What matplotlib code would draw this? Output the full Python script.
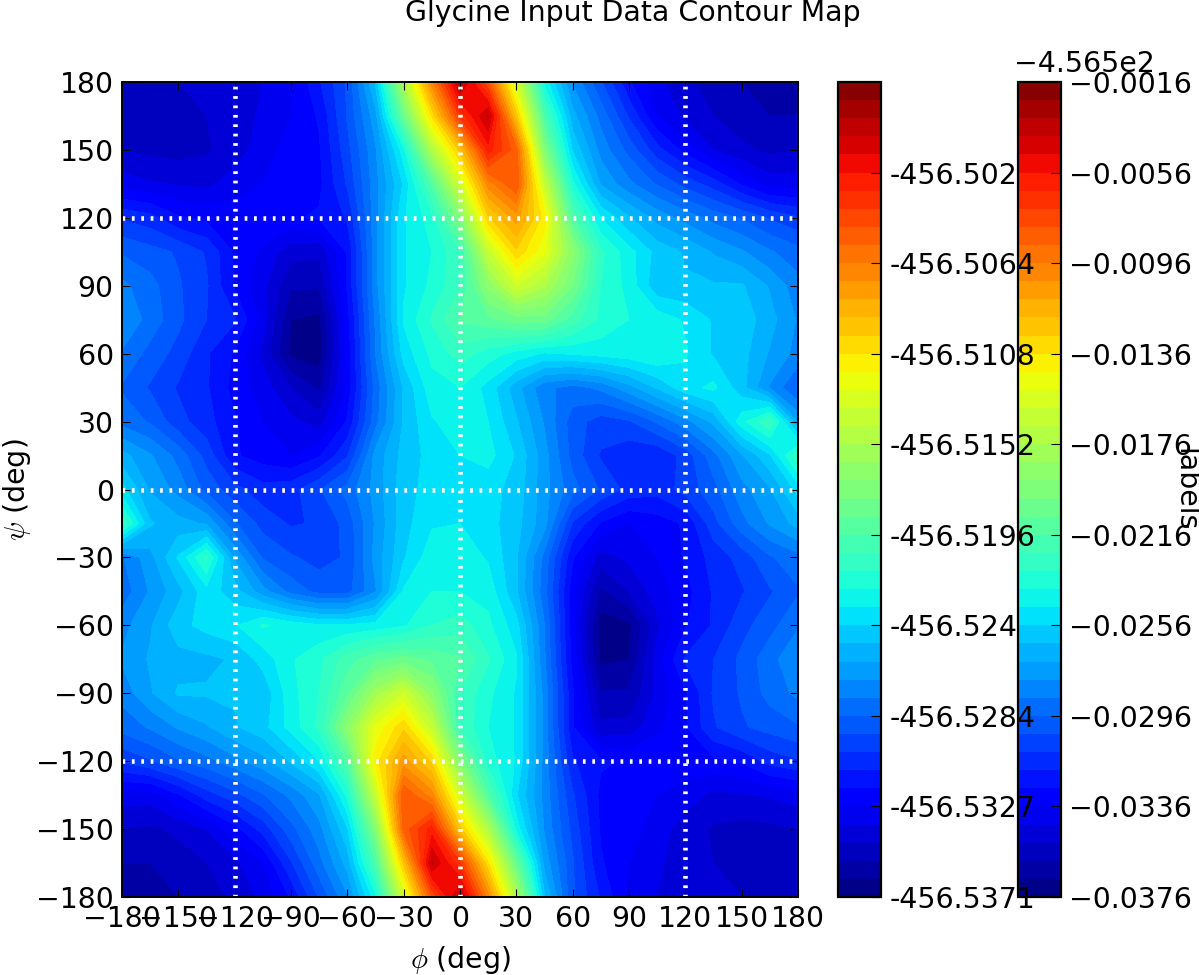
#!/usr/bin/env python3
"""Glycine input data contour map: phi/psi energy surface with two jet colorbars."""
import numpy as np
import matplotlib
matplotlib.use("Agg")
import matplotlib.pyplot as plt

plt.rcParams["font.family"] = "DejaVu Sans"
plt.rcParams["mathtext.fontset"] = "cm"

FONT = 20.4
W, H = 1199, 975

phi = list(range(-180, 181, 15))
psi = list(range(-180, 181, 15))

# energies, in mEh relative to -456.5; one row per psi, top of the map first
row_p180 = [-36, -36, -35.2, -35, -34.8, -34.4, -33.8, -32.1, -30.3, -26.3, -17.5, -10, -3.5, -8, -16, -24.3, -28.1, -30.3, -32.7, -34.2, -35, -35.6, -36, -36.5, -36.8]
row_p165 = [-35.6, -35.6, -35.4, -35.2, -35, -34.2, -33.6, -32.7, -30.3, -27.5, -20.6, -13.5, -7, -3.8, -12.5, -21.8, -26.9, -29.1, -31.3, -33.6, -34.6, -35.2, -35.7, -36, -36]
row_p150 = [-35.2, -35.4, -35.5, -35.3, -34.8, -34, -33.2, -32.9, -30.7, -28.1, -24.3, -17.5, -12.5, -6, -8.5, -19.5, -25.7, -28.3, -29.9, -31.7, -33.1, -34.4, -35, -35.4, -35.2]
row_p135 = [-34, -34.3, -34.5, -34.6, -34, -33.6, -33.1, -33, -31.1, -28.3, -25.5, -21.5, -16, -10, -8, -16.5, -23.8, -27.3, -28.6, -29.7, -30.7, -31.6, -32.9, -34, -34]
row_p120 = [-31.3, -31.7, -32.7, -33, -33.1, -32.9, -32.9, -32.7, -31.9, -28.3, -24.9, -23.6, -19.5, -13, -10.8, -14, -21.5, -24.8, -26.3, -27.5, -28.3, -29.1, -29.7, -30.5, -31.1]
row_p105 = [-29.7, -30.1, -30.5, -31.3, -32.9, -33.8, -34.9, -35, -32.7, -28.3, -24.9, -24, -22.5, -16.5, -13, -15, -19, -23, -24.5, -25.9, -26.5, -27.3, -27.9, -28.7, -29.3]
row_p90 = [-28.6, -29.3, -30.3, -31.1, -32.9, -34.2, -35.9, -35.9, -32.7, -28.3, -24.9, -23.8, -22.5, -19, -16, -17.5, -20, -23.2, -24.3, -26.2, -26.3, -26.3, -26.3, -27.3, -28.5]
row_p75 = [-28.1, -29.1, -30.2, -31.2, -31.9, -34, -36.8, -37, -33.1, -28.7, -24.7, -23.1, -21.5, -21, -20.4, -20.4, -22, -23.4, -24, -24.3, -24.9, -25.7, -25.9, -26.9, -28.1]
row_p60 = [-28.9, -29.9, -30.7, -31.9, -32.9, -34.6, -37, -37.2, -33.3, -28.8, -25.3, -23.8, -22.8, -23.6, -24.3, -24.9, -24.7, -24.5, -24.3, -24, -24.7, -25.7, -26.1, -27.3, -28.3]
row_p45 = [-29.7, -30.5, -31.3, -31.9, -33.1, -34, -35.2, -36.2, -33.3, -29.3, -26.3, -24.3, -24, -25.1, -26.9, -28.6, -29.1, -28.6, -27.5, -26.3, -25.1, -24.6, -26.1, -28.1, -29.7]
row_p30 = [-29.1, -29.7, -30.9, -31.7, -32.7, -33.6, -34.2, -34.8, -32.7, -29.1, -26.3, -24.9, -24.3, -24.8, -26.3, -28.1, -30, -30.8, -30.5, -29.5, -28.3, -27, -24.3, -22.4, -27.3]
row_p15 = [-26.9, -27.9, -29.1, -30.7, -32.7, -33.2, -33.6, -32.9, -31.3, -27.7, -26.1, -25.3, -24.8, -24.5, -25.7, -27.7, -29.9, -31.3, -31.8, -31.9, -30.9, -29.1, -27.3, -25.7, -22.6]
row_0 = [-25.3, -27.3, -28.3, -29.9, -30.9, -31.7, -31.5, -30.5, -29.3, -27.7, -25.9, -25.3, -25.1, -25.3, -25.9, -27.7, -29.3, -30.5, -31.5, -31.7, -30.9, -29.9, -28.3, -27.3, -25.3]
row_m15 = [-22.6, -26.3, -26.9, -27.3, -29.5, -30.7, -31.3, -31.1, -30.1, -27.9, -25.9, -24.9, -24.8, -25.3, -26.1, -27.7, -31.3, -32.9, -33.6, -33.2, -32.7, -30.7, -29.1, -27.9, -26.9]
row_m30 = [-28.9, -27.5, -25.5, -23, -27.3, -29.7, -30.3, -30.7, -30.3, -27.7, -25.7, -24.3, -24.3, -24.9, -26.3, -29.1, -32.7, -34.8, -34.2, -33.6, -32.7, -31.7, -30.9, -29.7, -29.1]
row_m45 = [-29.3, -27.9, -26.7, -25.1, -26.1, -27.7, -29.1, -29.9, -29.9, -28.1, -24.7, -24, -24, -24.3, -26.3, -29.3, -33.3, -36.2, -35.2, -34, -33.1, -31.9, -31.3, -30.5, -29.7]
row_m60 = [-28.3, -27.3, -25.9, -25.3, -24.9, -23.9, -24.3, -24.7, -24.7, -24.5, -24.1, -23.2, -22.8, -23.8, -25.3, -28.8, -33.3, -37.2, -37, -34.6, -32.9, -31.9, -30.7, -29.9, -28.9]
row_m75 = [-27.9, -27.1, -26.7, -26.6, -26.3, -25.3, -24.1, -23.4, -22, -21, -20.5, -21, -21.5, -23.1, -24.7, -28.7, -33.1, -37, -36.8, -34, -31.9, -31.2, -30.2, -29.1, -28.1]
row_m90 = [-28.5, -27.3, -26.3, -26.3, -26.3, -26.2, -24.3, -23.2, -21, -18, -16, -19, -22.5, -23.8, -24.9, -28.3, -32.7, -35.9, -35.9, -34.2, -32.9, -31.1, -30.3, -29.3, -28.6]
row_m105 = [-29.3, -28.7, -27.9, -27.3, -26.5, -25.9, -24.5, -23, -19, -15, -13, -16.5, -22.5, -24, -24.9, -28.3, -32.7, -35, -34.9, -33.8, -32.9, -31.3, -30.5, -30.1, -29.7]
row_m120 = [-31.1, -30.5, -29.7, -29.1, -28.3, -27.5, -26.3, -24.8, -21.5, -14, -10.8, -13, -19.5, -23.6, -24.9, -28.3, -31.9, -32.7, -32.9, -32.9, -33.1, -33, -32.7, -31.7, -31.3]
row_m135 = [-34, -34, -32.9, -31.6, -30.7, -29.7, -28.6, -27.3, -23.8, -16.5, -8, -10, -16, -21.5, -25.5, -28.3, -31.1, -33, -33.1, -33.6, -34, -34.6, -34.5, -34.3, -34]
row_m150 = [-35.2, -35.4, -35, -34.4, -33.1, -31.7, -29.9, -28.3, -25.7, -19.5, -8.5, -6, -12.5, -17.5, -24.3, -28.1, -30.7, -32.9, -33.2, -34, -34.8, -35.3, -35.5, -35.4, -35.2]
row_m165 = [-36, -36, -35.7, -35.2, -34.6, -33.6, -31.3, -29.1, -26.9, -21.8, -12.5, -3.8, -7, -13.5, -20.6, -27.5, -30.3, -32.7, -33.6, -34.2, -35, -35.2, -35.4, -35.6, -35.6]
row_m180 = [-36.8, -36.5, -36, -35.6, -35, -34.2, -32.7, -30.3, -28.1, -24.3, -16, -8, -3.5, -10, -17.5, -26.3, -30.3, -32.1, -33.8, -34.4, -34.8, -35, -35.2, -36, -36]

rows_top_down = [row_p180, row_p165, row_p150, row_p135, row_p120, row_p105, row_p90, row_p75,
                 row_p60, row_p45, row_p30, row_p15, row_0, row_m15, row_m30, row_m45, row_m60,
                 row_m75, row_m90, row_m105, row_m120, row_m135, row_m150, row_m165, row_m180]

axis_ticks = [-180, -150, -120, -90, -60, -30, 0, 30, 60, 90, 120, 150, 180]
grid_at = [-120, 0, 120]
cbar_offsets = [-0.0376, -0.0336, -0.0296, -0.0256, -0.0216, -0.0176, -0.0136, -0.0096, -0.0056, -0.0016]
left_labels = ["-456.5371", "-456.5327", "-456.5284", "-456.524", "-456.5196", "-456.5152",
               "-456.5108", "-456.5064", "-456.502"]
right_labels = ["\u22120.0376", "\u22120.0336", "\u22120.0296", "\u22120.0256", "\u22120.0216",
                "\u22120.0176", "\u22120.0136", "\u22120.0096", "\u22120.0056", "\u22120.0016"]
n_bands = 45


def px_axes(fig, x0, y0, x1, y1):
    """add_axes from pixel edges, y counted from the top like the reference."""
    return fig.add_axes([x0 / W, 1 - y1 / H, (x1 - x0) / W, (y1 - y0) / H])


energy = np.array(rows_top_down[::-1]) / 1000.0  # offsets from -456.5, bottom row first
base = -456.5
levels = np.linspace(base + cbar_offsets[0], base + cbar_offsets[-1], n_bands + 1)

fig = plt.figure(figsize=(W / 100, H / 100), dpi=100)
ax = px_axes(fig, 122, 82, 798, 897)
cf = ax.contourf(phi, psi, base + energy, levels=levels, cmap="jet", extend="neither")

ax.set_xlim(-180, 180)
ax.set_ylim(-180, 180)
ax.set_xticks(axis_ticks)
ax.set_yticks(axis_ticks)
ax.set_xticklabels([str(t).replace("-", "\u2212") for t in axis_ticks])
ax.set_yticklabels([str(t).replace("-", "\u2212") for t in axis_ticks])
ax.tick_params(direction="in", length=6, width=0.8, top=True, right=True, labelsize=FONT, pad=6)
for s in ax.spines.values():
    s.set_linewidth(1.4)
for g in grid_at:
    ax.axvline(g, color="white", lw=3.3, ls=(0, (0.6, 1.45)), dash_capstyle="butt")
    ax.axhline(g, color="white", lw=3.3, ls=(0, (0.6, 1.45)), dash_capstyle="butt")
ax.set_xlabel(r"$\phi$ (deg)", fontsize=FONT, labelpad=8)
ax.set_ylabel(r"$\psi$ (deg)", fontsize=FONT, labelpad=2)

tick_vals = [base + v for v in cbar_offsets]

cax1 = px_axes(fig, 838, 82, 881, 897)
cb1 = fig.colorbar(cf, cax=cax1, ticks=tick_vals[:-1])
cb1.ax.set_yticklabels(left_labels)
cax2 = px_axes(fig, 1018, 82, 1061, 897)
cb2 = fig.colorbar(cf, cax=cax2, ticks=tick_vals)
cb2.ax.set_yticklabels(right_labels)
cax1.set_zorder(3)  # its long labels run over the second bar
for cb in (cb1, cb2):
    cb.ax.tick_params(direction="in", length=7.5, width=0.8, labelsize=FONT, pad=6, right=True)
    cb.outline.set_linewidth(1.6)
    cb.ax.minorticks_off()

fig.text(1155 / W, 1 - 64 / H, "\u22124.565e2", fontsize=FONT, ha="right", va="center")
fig.text(1185 / W, 1 - 490 / H, "labels", fontsize=FONT, rotation=270, ha="center", va="center")
fig.text(633 / W, 1 - 13 / H, "Glycine Input Data Contour Map", fontsize=FONT, ha="center", va="center")

fig.savefig("out.png", dpi=100)
